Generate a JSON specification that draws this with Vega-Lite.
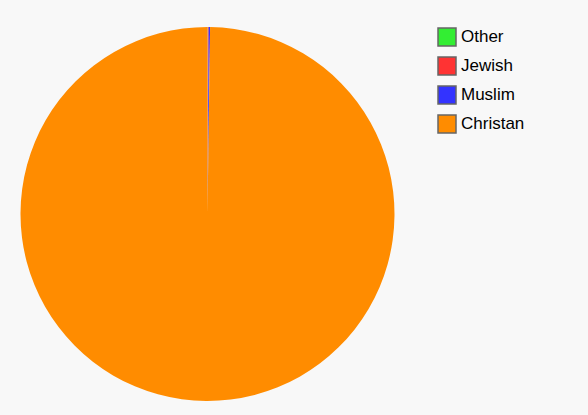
{
  "$schema": "https://vega.github.io/schema/vega-lite/v6.json",
  "width": 415,
  "height": 402,
  "autosize": {"type": "none"},
  "padding": {"top": 13, "left": 0, "right": 173, "bottom": 0},
  "background": "#f8f8f8",
  "data": {
    "values": [
      {"religion": "Other", "share": 0.02},
      {"religion": "Jewish", "share": 0.08},
      {"religion": "Muslim", "share": 0.12},
      {"religion": "Christan", "share": 99.78}
    ]
  },
  "mark": {"type": "arc", "outerRadius": 187},
  "encoding": {
    "theta": {"field": "share", "type": "quantitative", "stack": true},
    "order": {"field": "share", "type": "quantitative", "sort": "ascending"},
    "color": {
      "field": "religion",
      "type": "nominal",
      "scale": {
        "domain": ["Other", "Jewish", "Muslim", "Christan"],
        "range": ["#33ee33", "#ff3333", "#3333ff", "#ff8c00"]
      },
      "legend": {
        "title": null,
        "orient": "none",
        "legendX": 437,
        "legendY": 14,
        "symbolType": "square",
        "symbolSize": 324,
        "symbolStrokeColor": "#666666",
        "symbolStrokeWidth": 1.5,
        "symbolOpacity": 1,
        "labelFont": "Liberation Sans",
        "labelFontSize": 17,
        "labelColor": "#000000",
        "labelOffset": 4,
        "rowPadding": 5
      }
    }
  },
  "config": {"view": {"stroke": null}}
}
